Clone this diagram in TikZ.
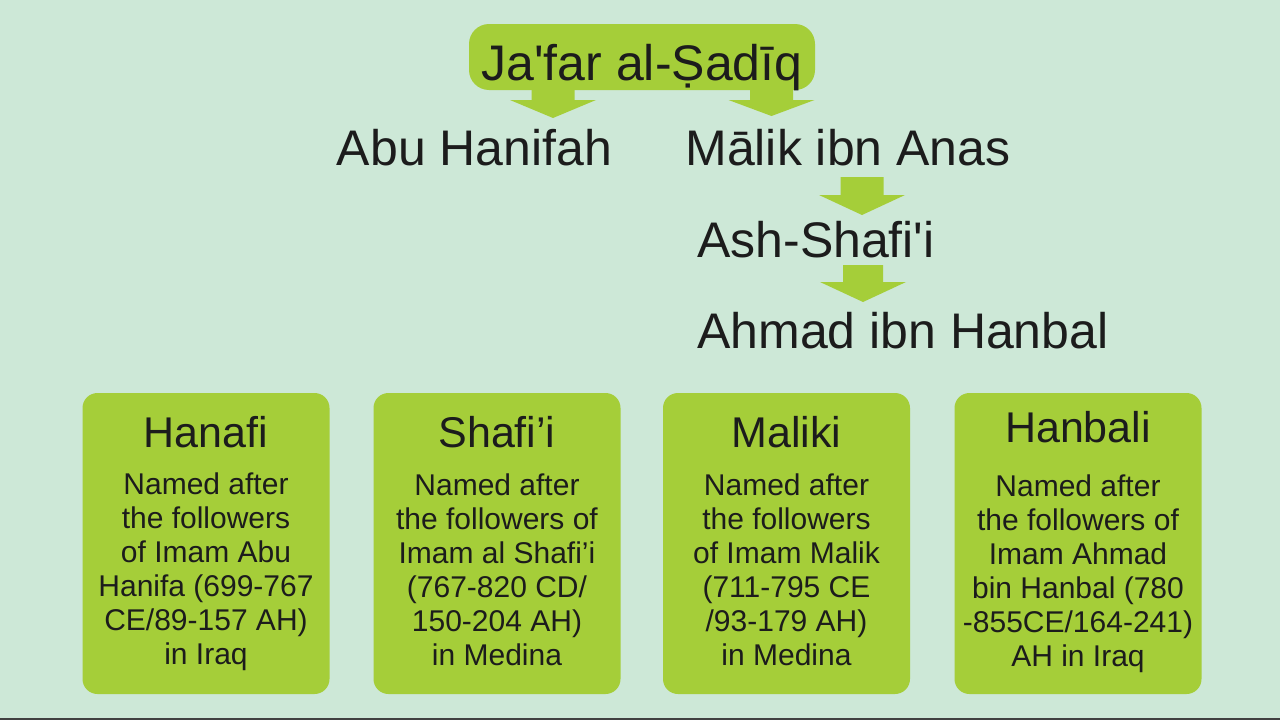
\documentclass[tikz,border=0pt]{standalone}
\usepackage{fontspec}
\setmainfont{Liberation Sans}
\definecolor{bgmint}{RGB}{205,232,215}
\definecolor{leaf}{RGB}{165,206,57}
\definecolor{ink}{RGB}{28,28,28}
\newcommand{\blockarrow}[5]{% x, ytop, yhead, ytip, shaft half width
  \fill[leaf] (#1-#5,#2) -- (#1+#5,#2) -- (#1+#5,#3) -- (#1+43,#3) -- (#1,#4) -- (#1-43,#3) -- (#1-#5,#3) -- cycle;}
\begin{document}
\begin{tikzpicture}[x=1pt,y=-1pt,
  every node/.style={text=ink},
  bigname/.style={font=\fontsize{50}{56}\selectfont, inner sep=0pt},
  titlebox/.style={fill=leaf, rounded corners=20pt, minimum width=346pt, minimum height=66pt,
    inner sep=0pt, text height=46pt, text depth=0pt, font=\fontsize{50}{56}\selectfont},
  school/.style={fill=leaf, rounded corners=15pt, minimum width=247pt, minimum height=301pt, inner sep=0pt},
  stitle/.style={font=\fontsize{43}{48}\selectfont, inner sep=0pt, anchor=base},
  sbody/.style={font=\fontsize{30}{34}\selectfont, inner sep=0pt, anchor=base, text width=244pt, align=flush center}
]
\fill[bgmint] (0,0) rectangle (1280,720);
\useasboundingbox (0,0) rectangle (1280,720);
\fill[black!75] (0,718) rectangle (1280,720);

% arrows
\blockarrow{553}{88}{100}{118}{21.5}
\blockarrow{771.5}{88}{100}{116}{21.5}
\blockarrow{862}{177}{195}{215}{21.5}
\blockarrow{863}{265}{282}{302}{20}

% top node
\node[titlebox] (jafar) at (642,57) {Ja\textquotesingle far al-Ṣadīq};

% names
\node[bigname, anchor=base] (abu) at (474.5,165) {Abu Hanifah};
\node[bigname, anchor=base] (malik) at (848,165) {Mālik ibn Anas};
\node[bigname, anchor=base west] (shafi) at (697,257) {Ash-Shafi\textquotesingle i};
\node[bigname, anchor=base west] (ahmad) at (697,348) {Ahmad ibn Hanbal};

% school boxes
\node[school] (hanafi) at (206,543.5) {};
\node[school] (shafii) at (497,543.5) {};
\node[school] (maliki) at (786.5,543.5) {};
\node[school] (hanbali) at (1078,543.5) {};

\node[stitle] (t1) at ([yshift=-55pt]hanafi.north) {Hanafi};
\node[stitle] (t2) at ([yshift=-55pt]shafii.north) {Shafi’i};
\node[stitle] (t3) at ([yshift=-55pt]maliki.north) {Maliki};
\node[stitle] (t4) at ([yshift=-50pt]hanbali.north) {Hanbali};

\node[sbody] (b1) at ([yshift=-102pt]hanafi.north) {Named after\\the followers\\of Imam Abu\\Hanifa (699-767\\CE/89-157 AH)\\in Iraq};
\node[sbody] (b2) at ([yshift=-103pt]shafii.north) {Named after\\the followers of\\Imam al Shafi’i\\(767-820 CD/\\150-204 AH)\\in Medina};
\node[sbody] (b3) at ([yshift=-103pt]maliki.north) {Named after\\the followers\\of Imam Malik\\(711-795 CE\\/93-179 AH)\\in Medina};
\node[sbody] (b4) at ([yshift=-104pt]hanbali.north) {Named after\\the followers of\\Imam Ahmad\\bin Hanbal (780\\-855CE/164-241)\\AH in Iraq};
\end{tikzpicture}
\end{document}
